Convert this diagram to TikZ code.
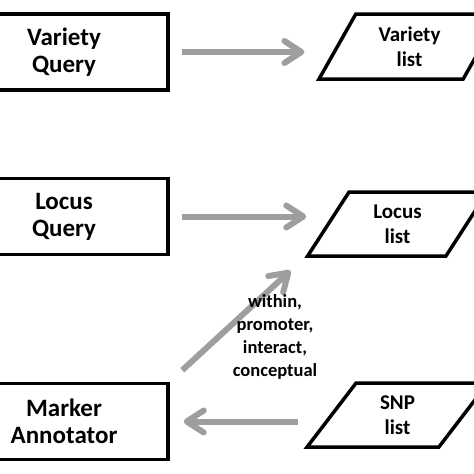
\documentclass[tikz,border=0pt]{standalone}
\usepackage{fontspec}
\setmainfont{Carlito}
\usetikzlibrary{arrows.meta,shapes.geometric}

\tikzset{
    querybox/.style={draw, line width=3.5pt, minimum width=208pt, minimum height=76pt,
        align=center, font=\bfseries\fontsize{25}{27}\selectfont},
    listbox/.style={draw, line width=3.5pt, trapezium, trapezium left angle=62,
        trapezium right angle=118, trapezium stretches=true, minimum width=181pt,
        minimum height=65pt, inner sep=0pt, align=center,
        font=\bfseries\fontsize{21}{25}\selectfont},
    flow/.style={draw=black!38, line width=6pt,
        -{Straight Barb[length=17pt,width=22pt,round]}}
}

\begin{document}
\begin{tikzpicture}[x=1pt,y=-1pt]
        \useasboundingbox (0, 0) rectangle (474, 474);
        \clip (0, 0) rectangle (474, 474);
        \node [querybox] (vq) at (64, 52) {Variety\\Query};
        \node [querybox] (lq) at (64, 216.5) {Locus\\Query};
        \node [querybox] (ma) at (64, 421.5) {Marker\\Annotator};
        \node [listbox] (vl) at (409.5, 46.5) {Variety\\list};
        \node [listbox, minimum height=64pt] (ll) at (397.5, 224) {Locus\\list};
        \node [listbox, minimum height=64pt] (sl) at (397.5, 415) {SNP\\list};
        \draw [flow, shorten <=12pt, shorten >=31pt] (vq.east) -- (vq.east -| vl.west);
        \draw [flow, shorten <=12pt, shorten >=20pt] (lq.east) -- (lq.east -| ll.west);
        \draw [flow, shorten <=31pt, shorten >=14pt] (ma.east -| sl.west) -- (ma.east);
        \draw [flow, shorten <=17pt, shorten >=19pt] (ma.north east) -- (ll.bottom left corner);
        \node [align=center, font=\bfseries\fontsize{18.5}{23}\selectfont] (kinds) at (275, 337)
            {within,\\promoter,\\interact,\\conceptual};
    \end{tikzpicture}
\end{document}
